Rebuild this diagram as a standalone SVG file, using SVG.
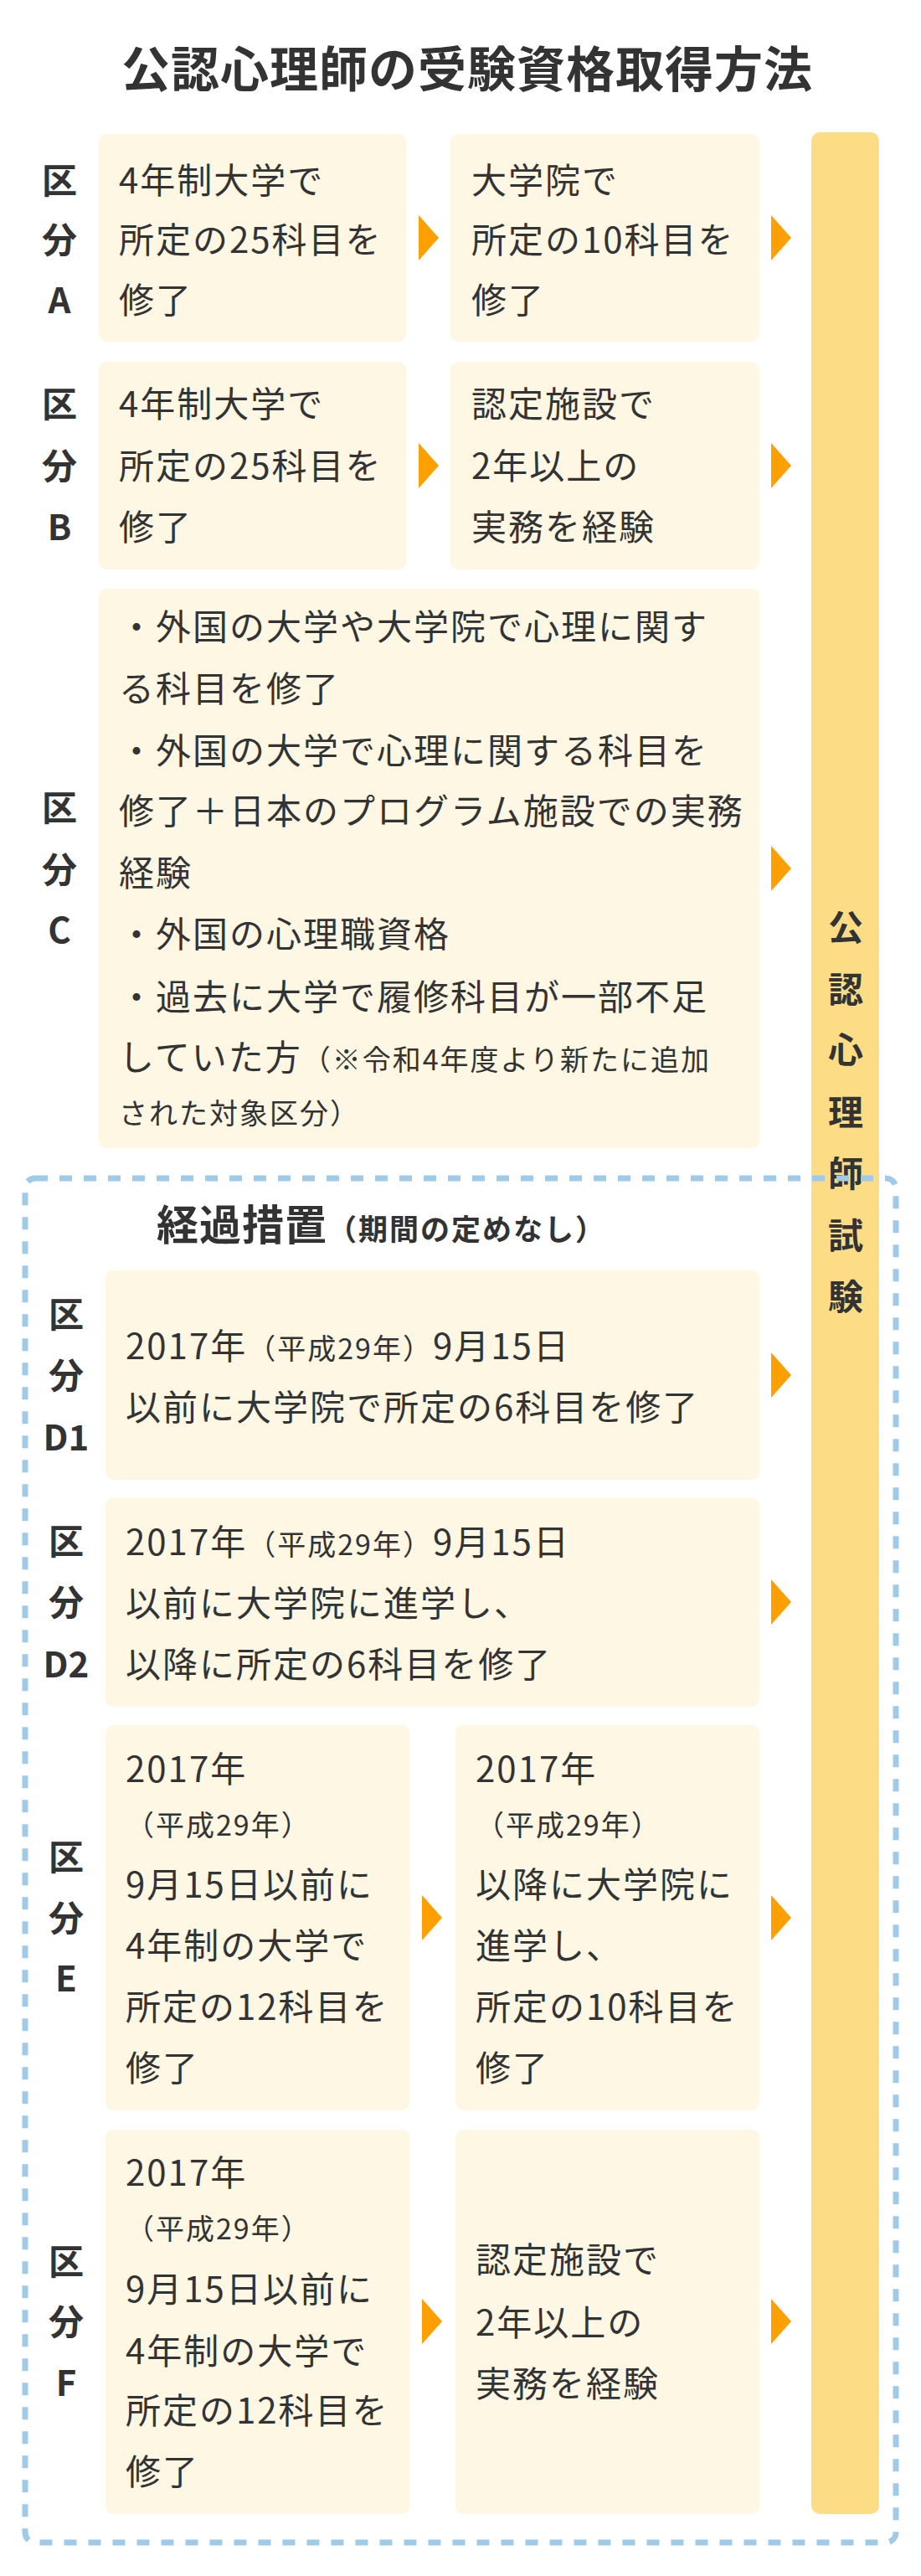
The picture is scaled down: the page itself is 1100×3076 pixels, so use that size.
<svg xmlns="http://www.w3.org/2000/svg" width="1100" height="3076" viewBox="0 0 1100 3076">
<style>
text{font-family:"Noto Sans CJK JP","Noto Sans CJK SC",sans-serif;fill:#333333}
.t{font-size:42px;letter-spacing:2px}
.s{font-size:34px;letter-spacing:2px}
.lb{font-size:42px;font-weight:700;text-anchor:middle}
.title{font-size:58px;font-weight:700;letter-spacing:1px}
.h{font-size:50px;font-weight:700;letter-spacing:1px}
.hs{font-size:35px;font-weight:700;letter-spacing:2px}
.box{fill:#FEF7E3}
.bar{fill:#FDDC86}
.arr{fill:#FF9F00}
</style>
<defs>
<path id="arrow" d="M0 0 L24 27 L0 54 Z"/>
</defs>
<rect width="1100" height="3076" fill="#ffffff"/>
<text class="title" x="145" y="104">公認心理師の受験資格取得方法</text>

<g id="exam">
<rect class="bar" x="969" y="158" width="81" height="2844" rx="10"/>
<text class="lb" x="1010" y="1123">公</text>
<text class="lb" x="1010" y="1197">認</text>
<text class="lb" x="1010" y="1269">心</text>
<text class="lb" x="1010" y="1344">理</text>
<text class="lb" x="1010" y="1417">師</text>
<text class="lb" x="1010" y="1491">試</text>
<text class="lb" x="1010" y="1564">験</text>
</g>

<g id="dashed-group">
<rect x="30" y="1407" width="1040" height="1629" rx="12" fill="none" stroke="#9FCBE9" stroke-width="7" stroke-dasharray="15 14"/>
<text class="h" x="187" y="1481">経過措置<tspan class="hs">（期間の定めなし）</tspan></text>
</g>

<g id="rowA">
<text class="lb" x="71" y="231">区</text>
<text class="lb" x="71" y="302">分</text>
<text class="lb" x="71" y="374">A</text>
<g id="A1">
<rect class="box" x="118" y="160" width="367" height="248" rx="9"/>
<text class="t" x="142" y="231">4年制大学で</text>
<text class="t" x="142" y="302">所定の25科目を</text>
<text class="t" x="142" y="374">修了</text>
</g>
<g id="A2">
<rect class="box" x="538" y="160" width="369" height="248" rx="9"/>
<text class="t" x="563" y="231">大学院で</text>
<text class="t" x="563" y="302">所定の10科目を</text>
<text class="t" x="563" y="374">修了</text>
</g>
</g>

<g id="rowB">
<text class="lb" x="71" y="498">区</text>
<text class="lb" x="71" y="572">分</text>
<text class="lb" x="71" y="645">B</text>
<g id="B1">
<rect class="box" x="118" y="432" width="367" height="248" rx="9"/>
<text class="t" x="142" y="498">4年制大学で</text>
<text class="t" x="142" y="572">所定の25科目を</text>
<text class="t" x="142" y="645">修了</text>
</g>
<g id="B2">
<rect class="box" x="538" y="432" width="369" height="248" rx="9"/>
<text class="t" x="563" y="498">認定施設で</text>
<text class="t" x="563" y="572">2年以上の</text>
<text class="t" x="563" y="645">実務を経験</text>
</g>
</g>

<g id="rowC">
<text class="lb" x="71" y="980">区</text>
<text class="lb" x="71" y="1054">分</text>
<text class="lb" x="71" y="1126">C</text>
<g id="C1">
<rect class="box" x="118" y="703" width="789" height="668" rx="9"/>
<text class="t" x="142" y="764">・外国の大学や大学院で心理に関す</text>
<text class="t" x="142" y="838">る科目を修了</text>
<text class="t" x="142" y="912">・外国の大学で心理に関する科目を</text>
<text class="t" x="142" y="984">修了＋日本のプログラム施設での実務</text>
<text class="t" x="142" y="1058">経験</text>
<text class="t" x="142" y="1131">・外国の心理職資格</text>
<text class="t" x="142" y="1206">・過去に大学で履修科目が一部不足</text>
<text class="t" x="142" y="1278">していた方<tspan class="s">（※令和4年度より新たに追加</tspan></text>
<text class="s" x="142" y="1342">された対象区分）</text>
</g>
</g>

<g id="rowD1">
<text class="lb" x="79" y="1585">区</text>
<text class="lb" x="79" y="1658">分</text>
<text class="lb" x="79" y="1732">D1</text>
<g id="D1">
<rect class="box" x="126" y="1517" width="781" height="250" rx="9"/>
<text class="t" x="150" y="1623">2017年<tspan class="s">（平成29年）</tspan>9月15日</text>
<text class="t" x="150" y="1696">以前に大学院で所定の6科目を修了</text>
</g>
</g>

<g id="rowD2">
<text class="lb" x="79" y="1856">区</text>
<text class="lb" x="79" y="1929">分</text>
<text class="lb" x="79" y="2003">D2</text>
<g id="D2">
<rect class="box" x="126" y="1789" width="781" height="249" rx="9"/>
<text class="t" x="150" y="1857">2017年<tspan class="s">（平成29年）</tspan>9月15日</text>
<text class="t" x="150" y="1930">以前に大学院に進学し、</text>
<text class="t" x="150" y="2003">以降に所定の6科目を修了</text>
</g>
</g>

<g id="rowE">
<text class="lb" x="79" y="2233">区</text>
<text class="lb" x="79" y="2306">分</text>
<text class="lb" x="79" y="2378">E</text>
<g id="E1">
<rect class="box" x="126" y="2060" width="363" height="460" rx="9"/>
<text class="t" x="150" y="2128">2017年</text>
<text class="s" x="150" y="2192">（平成29年）</text>
<text class="t" x="150" y="2266">9月15日以前に</text>
<text class="t" x="150" y="2339">4年制の大学で</text>
<text class="t" x="150" y="2412">所定の12科目を</text>
<text class="t" x="150" y="2485">修了</text>
</g>
<g id="E2">
<rect class="box" x="544" y="2060" width="363" height="460" rx="9"/>
<text class="t" x="568" y="2128">2017年</text>
<text class="s" x="568" y="2192">（平成29年）</text>
<text class="t" x="568" y="2266">以降に大学院に</text>
<text class="t" x="568" y="2339">進学し、</text>
<text class="t" x="568" y="2412">所定の10科目を</text>
<text class="t" x="568" y="2485">修了</text>
</g>
</g>

<g id="rowF">
<text class="lb" x="79" y="2716">区</text>
<text class="lb" x="79" y="2788">分</text>
<text class="lb" x="79" y="2861">F</text>
<g id="F1">
<rect class="box" x="126" y="2543" width="363" height="459" rx="9"/>
<text class="t" x="150" y="2610">2017年</text>
<text class="s" x="150" y="2674">（平成29年）</text>
<text class="t" x="150" y="2749">9月15日以前に</text>
<text class="t" x="150" y="2823">4年制の大学で</text>
<text class="t" x="150" y="2894">所定の12科目を</text>
<text class="t" x="150" y="2967">修了</text>
</g>
<g id="F2">
<rect class="box" x="544" y="2543" width="363" height="459" rx="9"/>
<text class="t" x="568" y="2714">認定施設で</text>
<text class="t" x="568" y="2789">2年以上の</text>
<text class="t" x="568" y="2862">実務を経験</text>
</g>
</g>

<g id="connectors" class="arr">
<use href="#arrow" x="500" y="257"/>
<use href="#arrow" x="921" y="257"/>
<use href="#arrow" x="500" y="529"/>
<use href="#arrow" x="921" y="529"/>
<use href="#arrow" x="921" y="1010"/>
<use href="#arrow" x="921" y="1615"/>
<use href="#arrow" x="921" y="1886"/>
<use href="#arrow" x="504" y="2263"/>
<use href="#arrow" x="921" y="2263"/>
<use href="#arrow" x="504" y="2745"/>
<use href="#arrow" x="921" y="2745"/>
</g>
</svg>
